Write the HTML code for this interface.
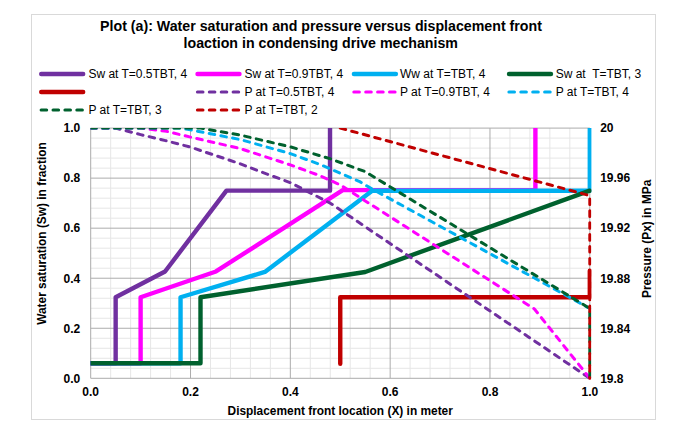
<!DOCTYPE html>
<html><head><meta charset="utf-8"><style>
html,body{margin:0;padding:0;background:#fff;}
svg{display:block;}
</style></head><body>
<svg width="695" height="435" viewBox="0 0 695 435">
<rect width="695" height="435" fill="#fff"/>
<rect x="31.5" y="14.5" width="624" height="405" fill="#fff" stroke="#D9D9D9" stroke-width="1"/>
<line x1="110.66" y1="128.10" x2="110.66" y2="378.30" stroke="#E6E6E6" stroke-width="1"/>
<line x1="90.70" y1="368.29" x2="589.80" y2="368.29" stroke="#E6E6E6" stroke-width="1"/>
<line x1="130.63" y1="128.10" x2="130.63" y2="378.30" stroke="#E6E6E6" stroke-width="1"/>
<line x1="90.70" y1="358.28" x2="589.80" y2="358.28" stroke="#E6E6E6" stroke-width="1"/>
<line x1="150.59" y1="128.10" x2="150.59" y2="378.30" stroke="#E6E6E6" stroke-width="1"/>
<line x1="90.70" y1="348.28" x2="589.80" y2="348.28" stroke="#E6E6E6" stroke-width="1"/>
<line x1="170.56" y1="128.10" x2="170.56" y2="378.30" stroke="#E6E6E6" stroke-width="1"/>
<line x1="90.70" y1="338.27" x2="589.80" y2="338.27" stroke="#E6E6E6" stroke-width="1"/>
<line x1="210.48" y1="128.10" x2="210.48" y2="378.30" stroke="#E6E6E6" stroke-width="1"/>
<line x1="90.70" y1="318.25" x2="589.80" y2="318.25" stroke="#E6E6E6" stroke-width="1"/>
<line x1="230.45" y1="128.10" x2="230.45" y2="378.30" stroke="#E6E6E6" stroke-width="1"/>
<line x1="90.70" y1="308.24" x2="589.80" y2="308.24" stroke="#E6E6E6" stroke-width="1"/>
<line x1="250.41" y1="128.10" x2="250.41" y2="378.30" stroke="#E6E6E6" stroke-width="1"/>
<line x1="90.70" y1="298.24" x2="589.80" y2="298.24" stroke="#E6E6E6" stroke-width="1"/>
<line x1="270.38" y1="128.10" x2="270.38" y2="378.30" stroke="#E6E6E6" stroke-width="1"/>
<line x1="90.70" y1="288.23" x2="589.80" y2="288.23" stroke="#E6E6E6" stroke-width="1"/>
<line x1="310.30" y1="128.10" x2="310.30" y2="378.30" stroke="#E6E6E6" stroke-width="1"/>
<line x1="90.70" y1="268.21" x2="589.80" y2="268.21" stroke="#E6E6E6" stroke-width="1"/>
<line x1="330.27" y1="128.10" x2="330.27" y2="378.30" stroke="#E6E6E6" stroke-width="1"/>
<line x1="90.70" y1="258.20" x2="589.80" y2="258.20" stroke="#E6E6E6" stroke-width="1"/>
<line x1="350.23" y1="128.10" x2="350.23" y2="378.30" stroke="#E6E6E6" stroke-width="1"/>
<line x1="90.70" y1="248.20" x2="589.80" y2="248.20" stroke="#E6E6E6" stroke-width="1"/>
<line x1="370.20" y1="128.10" x2="370.20" y2="378.30" stroke="#E6E6E6" stroke-width="1"/>
<line x1="90.70" y1="238.19" x2="589.80" y2="238.19" stroke="#E6E6E6" stroke-width="1"/>
<line x1="410.12" y1="128.10" x2="410.12" y2="378.30" stroke="#E6E6E6" stroke-width="1"/>
<line x1="90.70" y1="218.17" x2="589.80" y2="218.17" stroke="#E6E6E6" stroke-width="1"/>
<line x1="430.09" y1="128.10" x2="430.09" y2="378.30" stroke="#E6E6E6" stroke-width="1"/>
<line x1="90.70" y1="208.16" x2="589.80" y2="208.16" stroke="#E6E6E6" stroke-width="1"/>
<line x1="450.05" y1="128.10" x2="450.05" y2="378.30" stroke="#E6E6E6" stroke-width="1"/>
<line x1="90.70" y1="198.16" x2="589.80" y2="198.16" stroke="#E6E6E6" stroke-width="1"/>
<line x1="470.02" y1="128.10" x2="470.02" y2="378.30" stroke="#E6E6E6" stroke-width="1"/>
<line x1="90.70" y1="188.15" x2="589.80" y2="188.15" stroke="#E6E6E6" stroke-width="1"/>
<line x1="509.94" y1="128.10" x2="509.94" y2="378.30" stroke="#E6E6E6" stroke-width="1"/>
<line x1="90.70" y1="168.13" x2="589.80" y2="168.13" stroke="#E6E6E6" stroke-width="1"/>
<line x1="529.91" y1="128.10" x2="529.91" y2="378.30" stroke="#E6E6E6" stroke-width="1"/>
<line x1="90.70" y1="158.12" x2="589.80" y2="158.12" stroke="#E6E6E6" stroke-width="1"/>
<line x1="549.87" y1="128.10" x2="549.87" y2="378.30" stroke="#E6E6E6" stroke-width="1"/>
<line x1="90.70" y1="148.12" x2="589.80" y2="148.12" stroke="#E6E6E6" stroke-width="1"/>
<line x1="569.84" y1="128.10" x2="569.84" y2="378.30" stroke="#E6E6E6" stroke-width="1"/>
<line x1="90.70" y1="138.11" x2="589.80" y2="138.11" stroke="#E6E6E6" stroke-width="1"/>
<line x1="90.70" y1="128.10" x2="90.70" y2="378.30" stroke="#ACACAC" stroke-width="1"/>
<line x1="90.70" y1="378.30" x2="589.80" y2="378.30" stroke="#ACACAC" stroke-width="1"/>
<line x1="190.52" y1="128.10" x2="190.52" y2="378.30" stroke="#ACACAC" stroke-width="1"/>
<line x1="90.70" y1="328.26" x2="589.80" y2="328.26" stroke="#ACACAC" stroke-width="1"/>
<line x1="290.34" y1="128.10" x2="290.34" y2="378.30" stroke="#ACACAC" stroke-width="1"/>
<line x1="90.70" y1="278.22" x2="589.80" y2="278.22" stroke="#ACACAC" stroke-width="1"/>
<line x1="390.16" y1="128.10" x2="390.16" y2="378.30" stroke="#ACACAC" stroke-width="1"/>
<line x1="90.70" y1="228.18" x2="589.80" y2="228.18" stroke="#ACACAC" stroke-width="1"/>
<line x1="489.98" y1="128.10" x2="489.98" y2="378.30" stroke="#ACACAC" stroke-width="1"/>
<line x1="90.70" y1="178.14" x2="589.80" y2="178.14" stroke="#ACACAC" stroke-width="1"/>
<line x1="589.80" y1="128.10" x2="589.80" y2="378.30" stroke="#ACACAC" stroke-width="1"/>
<line x1="90.70" y1="128.10" x2="589.80" y2="128.10" stroke="#ACACAC" stroke-width="1"/>
<defs><clipPath id="c"><rect x="90.5" y="127.9" width="500.9" height="270"/></clipPath></defs>
<g clip-path="url(#c)" fill="none" stroke-linejoin="round">
<polyline points="90.70,363.29 115.66,363.29 115.66,297.24 165.07,271.46 226.46,190.65 330.02,190.65 330.02,123.10" stroke="#7030A0" stroke-width="4.4" stroke-linecap="round"/>
<polyline points="90.70,363.29 140.61,363.29 140.61,297.24 215.97,271.46 342.75,190.15 535.40,190.15 535.40,123.10" stroke="#FF00FF" stroke-width="4.4" stroke-linecap="round"/>
<polyline points="90.70,363.29 180.54,363.29 180.54,297.24 264.89,271.97 372.19,190.78 589.80,190.78 589.80,123.10" stroke="#00B0F0" stroke-width="4.4" stroke-linecap="round"/>
<polyline points="90.70,363.29 200.50,363.29 200.50,297.24 365.20,271.97 589.80,190.65" stroke="#00612E" stroke-width="4.4" stroke-linecap="round"/>
<polyline points="340.25,363.79 340.25,297.24 589.80,297.24 589.80,270.71" stroke="#C00000" stroke-width="4.4" stroke-linecap="round"/>
<polyline points="90.70,128.10 115.66,128.10 140.61,134.61 165.56,140.61 190.52,147.12 240.43,163.88 260.39,171.63 290.34,182.64 330.27,203.16 589.80,378.30" stroke="#7030A0" stroke-width="3.0" stroke-linecap="round" stroke-dasharray="5.6 6.3"/>
<polyline points="90.70,128.10 140.61,128.10 166.56,131.35 190.52,137.11 240.43,148.62 290.34,164.88 319.79,175.64 340.25,184.90 534.40,308.99 589.80,378.30" stroke="#FF00FF" stroke-width="3.0" stroke-linecap="round" stroke-dasharray="5.6 6.3"/>
<polyline points="90.70,128.10 180.54,128.10 190.52,129.85 240.43,139.61 290.34,153.62 319.79,164.38 359.71,181.64 370.20,187.90 589.80,308.49" stroke="#00B0F0" stroke-width="3.0" stroke-linecap="round" stroke-dasharray="5.6 6.3"/>
<polyline points="90.70,128.10 200.50,128.10 240.43,135.11 290.34,146.86 329.77,158.62 365.20,171.63 589.80,308.49 589.80,378.30" stroke="#00612E" stroke-width="3.0" stroke-linecap="round" stroke-dasharray="5.6 6.3"/>
<polyline points="340.25,128.10 589.80,195.65 589.80,378.30" stroke="#C00000" stroke-width="3.0" stroke-linecap="round" stroke-dasharray="5.6 6.3"/>
</g>
<text x="80.3" y="382.60" text-anchor="end" font-family="Liberation Sans" font-weight="bold" font-size="12" fill="#000">0.0</text>
<text x="90.70" y="396.4" text-anchor="middle" font-family="Liberation Sans" font-weight="bold" font-size="12" fill="#000">0.0</text>
<text x="600.2" y="382.60" font-family="Liberation Sans" font-weight="bold" font-size="12" fill="#000">19.8</text>
<text x="80.3" y="332.56" text-anchor="end" font-family="Liberation Sans" font-weight="bold" font-size="12" fill="#000">0.2</text>
<text x="190.52" y="396.4" text-anchor="middle" font-family="Liberation Sans" font-weight="bold" font-size="12" fill="#000">0.2</text>
<text x="600.2" y="332.56" font-family="Liberation Sans" font-weight="bold" font-size="12" fill="#000">19.84</text>
<text x="80.3" y="282.52" text-anchor="end" font-family="Liberation Sans" font-weight="bold" font-size="12" fill="#000">0.4</text>
<text x="290.34" y="396.4" text-anchor="middle" font-family="Liberation Sans" font-weight="bold" font-size="12" fill="#000">0.4</text>
<text x="600.2" y="282.52" font-family="Liberation Sans" font-weight="bold" font-size="12" fill="#000">19.88</text>
<text x="80.3" y="232.48" text-anchor="end" font-family="Liberation Sans" font-weight="bold" font-size="12" fill="#000">0.6</text>
<text x="390.16" y="396.4" text-anchor="middle" font-family="Liberation Sans" font-weight="bold" font-size="12" fill="#000">0.6</text>
<text x="600.2" y="232.48" font-family="Liberation Sans" font-weight="bold" font-size="12" fill="#000">19.92</text>
<text x="80.3" y="182.44" text-anchor="end" font-family="Liberation Sans" font-weight="bold" font-size="12" fill="#000">0.8</text>
<text x="489.98" y="396.4" text-anchor="middle" font-family="Liberation Sans" font-weight="bold" font-size="12" fill="#000">0.8</text>
<text x="600.2" y="182.44" font-family="Liberation Sans" font-weight="bold" font-size="12" fill="#000">19.96</text>
<text x="80.3" y="132.40" text-anchor="end" font-family="Liberation Sans" font-weight="bold" font-size="12" fill="#000">1.0</text>
<text x="589.80" y="396.4" text-anchor="middle" font-family="Liberation Sans" font-weight="bold" font-size="12" fill="#000">1.0</text>
<text x="600.2" y="132.40" font-family="Liberation Sans" font-weight="bold" font-size="12" fill="#000">20</text>
<text x="340.2" y="414.8" text-anchor="middle" font-family="Liberation Sans" font-weight="bold" font-size="11.9" fill="#000">Displacement front location (X) in meter</text>
<text transform="translate(45.8,233.5) rotate(-90)" text-anchor="middle" font-family="Liberation Sans" font-weight="bold" font-size="11.9" fill="#000">Water saturation (Sw) in fraction</text>
<text transform="translate(651.2,238.8) rotate(-90)" text-anchor="middle" font-family="Liberation Sans" font-weight="bold" font-size="11.9" fill="#000">Pressure (Px) in MPa</text>
<text x="321.0" y="31.1" text-anchor="middle" font-family="Liberation Sans" font-weight="bold" font-size="14.2" fill="#000">Plot (a): Water saturation and pressure versus displacement front</text>
<text x="320.8" y="47.9" text-anchor="middle" font-family="Liberation Sans" font-weight="bold" font-size="14.2" fill="#000">loaction in condensing drive mechanism</text>
<line x1="41.20" y1="74.0" x2="83.20" y2="74.0" stroke="#7030A0" stroke-width="4.4" stroke-linecap="round"/>
<text x="88.4" y="78.20" font-family="Liberation Sans" font-size="12" fill="#000" xml:space="preserve">Sw at T=0.5TBT, 4</text>
<line x1="197.50" y1="74.0" x2="239.50" y2="74.0" stroke="#FF00FF" stroke-width="4.4" stroke-linecap="round"/>
<text x="244.4" y="78.20" font-family="Liberation Sans" font-size="12" fill="#000" xml:space="preserve">Sw at T=0.9TBT, 4</text>
<line x1="353.90" y1="74.0" x2="395.90" y2="74.0" stroke="#00B0F0" stroke-width="4.4" stroke-linecap="round"/>
<text x="400.0" y="78.20" font-family="Liberation Sans" font-size="12" fill="#000" xml:space="preserve">Ww at T=TBT, 4</text>
<line x1="509.00" y1="74.0" x2="551.00" y2="74.0" stroke="#00612E" stroke-width="4.4" stroke-linecap="round"/>
<text x="555.7" y="78.20" font-family="Liberation Sans" font-size="12" fill="#000" xml:space="preserve">Sw at  T=TBT, 3</text>
<line x1="41.20" y1="92.0" x2="83.20" y2="92.0" stroke="#C00000" stroke-width="4.4" stroke-linecap="round"/>
<line x1="197.40" y1="92.0" x2="244.40" y2="92.0" stroke="#7030A0" stroke-width="3.0" stroke-linecap="round" stroke-dasharray="5.6 6.3"/>
<text x="244.4" y="96.20" font-family="Liberation Sans" font-size="12" fill="#000" xml:space="preserve">P at T=0.5TBT, 4</text>
<line x1="353.80" y1="92.0" x2="400.80" y2="92.0" stroke="#FF00FF" stroke-width="3.0" stroke-linecap="round" stroke-dasharray="5.6 6.3"/>
<text x="400.0" y="96.20" font-family="Liberation Sans" font-size="12" fill="#000" xml:space="preserve">P at T=0.9TBT, 4</text>
<line x1="508.90" y1="92.0" x2="555.90" y2="92.0" stroke="#00B0F0" stroke-width="3.0" stroke-linecap="round" stroke-dasharray="5.6 6.3"/>
<text x="555.7" y="96.20" font-family="Liberation Sans" font-size="12" fill="#000" xml:space="preserve">P at T=TBT, 4</text>
<line x1="41.10" y1="110.0" x2="88.10" y2="110.0" stroke="#00612E" stroke-width="3.0" stroke-linecap="round" stroke-dasharray="5.6 6.3"/>
<text x="88.4" y="114.20" font-family="Liberation Sans" font-size="12" fill="#000" xml:space="preserve">P at T=TBT, 3</text>
<line x1="197.40" y1="110.0" x2="244.40" y2="110.0" stroke="#C00000" stroke-width="3.0" stroke-linecap="round" stroke-dasharray="5.6 6.3"/>
<text x="244.4" y="114.20" font-family="Liberation Sans" font-size="12" fill="#000" xml:space="preserve">P at T=TBT, 2</text>
</svg>
</body></html>
